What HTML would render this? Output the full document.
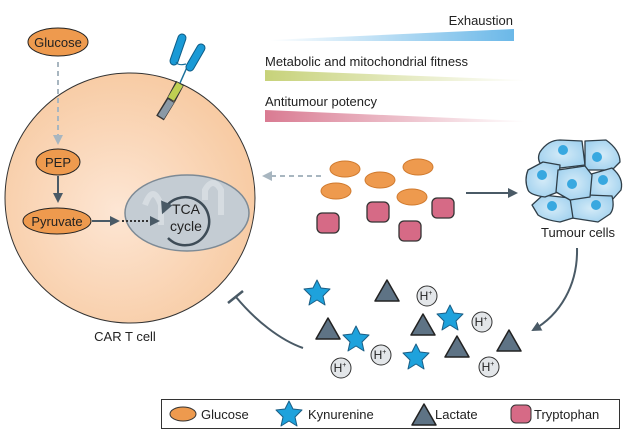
<!DOCTYPE html>
<html><head><meta charset="utf-8"><style>
html,body{margin:0;padding:0;background:#fff;}
svg{display:block;font-family:"Liberation Sans",sans-serif;}
</style></head><body>
<svg width="628" height="439" viewBox="0 0 628 439" xmlns="http://www.w3.org/2000/svg">
<defs>
<radialGradient id="cell" cx="0.45" cy="0.55" r="0.6"><stop offset="0" stop-color="#fde6d4"/><stop offset="1" stop-color="#f7c9a0"/></radialGradient>
<linearGradient id="gb" x1="0" x2="1"><stop offset="0" stop-color="#fff"/><stop offset="1" stop-color="#6bb8e8"/></linearGradient>
<linearGradient id="gg" x1="0" x2="1"><stop offset="0" stop-color="#c7d27a"/><stop offset="1" stop-color="#fff"/></linearGradient>
<linearGradient id="gp" x1="0" x2="1"><stop offset="0" stop-color="#d97b92"/><stop offset="1" stop-color="#fff"/></linearGradient>
<radialGradient id="tc" cx="0.5" cy="0.5" r="0.6"><stop offset="0" stop-color="#d4ebf8"/><stop offset="1" stop-color="#9fd0ee"/></radialGradient>
<marker id="ah" viewBox="0 0 10 10" refX="8" refY="5" markerWidth="5" markerHeight="5" orient="auto-start-reverse"><path d="M0,0L10,5L0,10z" fill="#4a5a66"/></marker>
<marker id="ahg" viewBox="0 0 10 10" refX="8" refY="5" markerWidth="5" markerHeight="5" orient="auto"><path d="M0,0L10,5L0,10z" fill="#a8b6c0"/></marker>
<g id="star"><path d="M0,-13L4,-5L13,-4L6,3L8,12L0,7L-8,12L-6,3L-13,-4L-4,-5z" fill="#1ea2dc" stroke="#1b5e85" stroke-width="1" stroke-linejoin="round"/></g>
<g id="tri"><path d="M0,-12L12,9L-12,9z" fill="#5e7385" stroke="#222" stroke-width="1.5" stroke-linejoin="round"/></g>
<g id="egg"><ellipse rx="15" ry="8" fill="#ee9a4e" stroke="#d07a2e" stroke-width="1"/></g>
<g id="sq"><rect x="-11" y="-10" width="22" height="20" rx="5" fill="#d66a86" stroke="#333" stroke-width="1.3"/></g>
</defs>

<text x="513" y="25" font-size="13" text-anchor="end" fill="#222">Exhaustion</text>
<path d="M270,40L514,29L514,41L270,41z" fill="url(#gb)"/>
<text x="265" y="66" font-size="13" fill="#222">Metabolic and mitochondrial fitness</text>
<path d="M265,70L525,80L525,81L265,81z" fill="url(#gg)"/>
<text x="265" y="106" font-size="13" fill="#222">Antitumour potency</text>
<path d="M265,110L525,121L525,122L265,122z" fill="url(#gp)"/>

<circle cx="130" cy="198" r="125" fill="url(#cell)" stroke="#333" stroke-width="1"/>
<text x="125" y="341" font-size="13" text-anchor="middle" fill="#222">CAR T cell</text>

<!-- receptor -->
<line x1="188" y1="65" x2="180" y2="83" stroke="#1a6f9a" stroke-width="1.5"/>
<path d="M182,38 L174,61" stroke="#0e5d87" stroke-width="9" stroke-linecap="round"/>
<path d="M182,38 L174,61" stroke="#1a9ad6" stroke-width="7" stroke-linecap="round"/>
<path d="M201,48 L190,67" stroke="#0e5d87" stroke-width="9" stroke-linecap="round"/>
<path d="M201,48 L190,67" stroke="#1a9ad6" stroke-width="7" stroke-linecap="round"/>
<path d="M176,62 Q178,66 186,64" fill="none" stroke="#1a6f9a" stroke-width="1.2"/>
<path d="M180,83 L171,100" stroke="#333" stroke-width="9"/>
<path d="M180,84 L171,99" stroke="#bfcf52" stroke-width="7"/>
<path d="M171,100 L160,118" stroke="#333" stroke-width="9"/>
<path d="M171,101 L161,117" stroke="#8a99a6" stroke-width="7"/>

<line x1="58" y1="62" x2="58" y2="143" stroke="#a8b6c0" stroke-width="2" stroke-dasharray="5,4" marker-end="url(#ahg)"/>
<ellipse cx="58" cy="42" rx="30" ry="14" fill="#ee9a4e" stroke="#222" stroke-width="1"/>
<text x="58" y="47" font-size="13" text-anchor="middle" fill="#222">Glucose</text>
<ellipse cx="58" cy="162" rx="22" ry="13" fill="#ee9a4e" stroke="#222" stroke-width="1"/>
<text x="58" y="167" font-size="13" text-anchor="middle" fill="#222">PEP</text>
<line x1="58" y1="176" x2="58" y2="201" stroke="#4a5a66" stroke-width="2" marker-end="url(#ah)"/>
<ellipse cx="57" cy="221" rx="34" ry="13" fill="#ee9a4e" stroke="#222" stroke-width="1"/>
<text x="57" y="226" font-size="13" text-anchor="middle" fill="#222">Pyruvate</text>

<ellipse cx="187" cy="213" rx="62" ry="38" fill="#c4ccd3" stroke="#7d8a95" stroke-width="1.5"/>
<path d="M145,205 q8,-22 16,0 v20 M205,200 v-10 q8,-14 16,0 v25" fill="none" stroke="#d6dce1" stroke-width="6"/>
<path d="M163,212 A24,24 0 1 1 168,238" fill="none" stroke="#3e4c57" stroke-width="2.5" marker-start="url(#ah)"/>
<text x="186" y="214" font-size="14" text-anchor="middle" fill="#222">TCA</text>
<text x="186" y="231" font-size="14" text-anchor="middle" fill="#222">cycle</text>
<line x1="92" y1="221" x2="118" y2="221" stroke="#4a5a66" stroke-width="2" marker-end="url(#ah)"/>
<line x1="122" y1="221" x2="158" y2="221" stroke="#333" stroke-width="2" stroke-dasharray="2,2" marker-end="url(#ah)"/>

<line x1="321" y1="176" x2="264" y2="176" stroke="#a8b6c0" stroke-width="2" stroke-dasharray="5,4" marker-end="url(#ahg)"/>
<line x1="466" y1="193" x2="516" y2="193" stroke="#4a5a66" stroke-width="2" marker-end="url(#ah)"/>
<path d="M577,248 C578,285 560,315 533,330" fill="none" stroke="#4a5a66" stroke-width="2" marker-end="url(#ah)"/>
<path d="M303,348 C280,340 255,320 236,297" fill="none" stroke="#4a5a66" stroke-width="2"/>
<line x1="228" y1="303" x2="243" y2="291" stroke="#4a5a66" stroke-width="2.5"/>

<use href="#egg" x="345" y="169"/><use href="#egg" x="380" y="180"/><use href="#egg" x="418" y="167"/>
<use href="#egg" x="336" y="191"/><use href="#egg" x="412" y="197"/>
<use href="#sq" x="328" y="223"/><use href="#sq" x="378" y="212"/><use href="#sq" x="410" y="231"/><use href="#sq" x="443" y="208"/>

<g stroke="#2f3e48" stroke-width="1.3" fill="url(#tc)" stroke-linejoin="round">
<path d="M540,152 Q548,140 560,140 L582,141 L585,165 L560,168 L543,167 Q536,160 540,152z"/>
<path d="M585,141 L606,140 Q620,150 620,162 L612,170 L585,170z"/>
<path d="M612,168 Q624,178 621,190 L612,200 L590,197 L588,175z"/>
<path d="M588,195 L612,196 Q615,208 610,214 L598,222 L572,218 L570,200z"/>
<path d="M543,195 L570,198 L573,218 L560,222 Q545,220 538,215 L532,205z"/>
<path d="M543,162 L560,165 L558,192 L545,197 Q530,195 528,190 Q524,180 528,170z"/>
<path d="M558,170 L585,166 L592,175 L590,197 L570,200 L556,192z"/>
</g>
<g fill="#38a8e0">
<circle cx="563" cy="150" r="5"/><circle cx="597" cy="157" r="5"/><circle cx="542" cy="175" r="5"/>
<circle cx="572" cy="184" r="5"/><circle cx="603" cy="180" r="5"/><circle cx="552" cy="206" r="5"/><circle cx="596" cy="205" r="5"/>
</g>
<text x="578" y="237" font-size="13" text-anchor="middle" fill="#222">Tumour cells</text>

<use href="#star" x="317" y="293"/><use href="#star" x="356" y="339"/><use href="#star" x="416" y="357"/><use href="#star" x="450" y="318"/>
<use href="#tri" x="387" y="292"/><use href="#tri" x="328" y="330"/><use href="#tri" x="423" y="326"/><use href="#tri" x="457" y="348"/><use href="#tri" x="509" y="342"/>
<g font-size="12" text-anchor="middle" fill="#222">
<circle cx="427" cy="296" r="10" fill="#e3e6e9" stroke="#333"/><text x="426" y="300">H<tspan font-size="7" dy="-5">+</tspan></text>
<circle cx="482" cy="322" r="10" fill="#e3e6e9" stroke="#333"/><text x="481" y="326">H<tspan font-size="7" dy="-5">+</tspan></text>
<circle cx="381" cy="355" r="10" fill="#e3e6e9" stroke="#333"/><text x="380" y="359">H<tspan font-size="7" dy="-5">+</tspan></text>
<circle cx="341" cy="368" r="10" fill="#e3e6e9" stroke="#333"/><text x="340" y="372">H<tspan font-size="7" dy="-5">+</tspan></text>
<circle cx="489" cy="367" r="10" fill="#e3e6e9" stroke="#333"/><text x="488" y="371">H<tspan font-size="7" dy="-5">+</tspan></text>
</g>

<rect x="161.5" y="399.5" width="458" height="29" fill="#fff" stroke="#333" stroke-width="1"/>
<ellipse cx="183" cy="414" rx="13" ry="7" fill="#ee9a4e" stroke="#333"/>
<text x="201" y="419" font-size="13" fill="#222">Glucose</text>
<use href="#star" x="289" y="414"/>
<text x="308" y="419" font-size="13" fill="#222">Kynurenine</text>
<use href="#tri" x="424" y="416"/>
<text x="435" y="419" font-size="13" fill="#222">Lactate</text>
<rect x="511" y="405" width="20" height="18" rx="5" fill="#d66a86" stroke="#333"/>
<text x="534" y="419" font-size="13" fill="#222">Tryptophan</text>
</svg>
</body></html>
